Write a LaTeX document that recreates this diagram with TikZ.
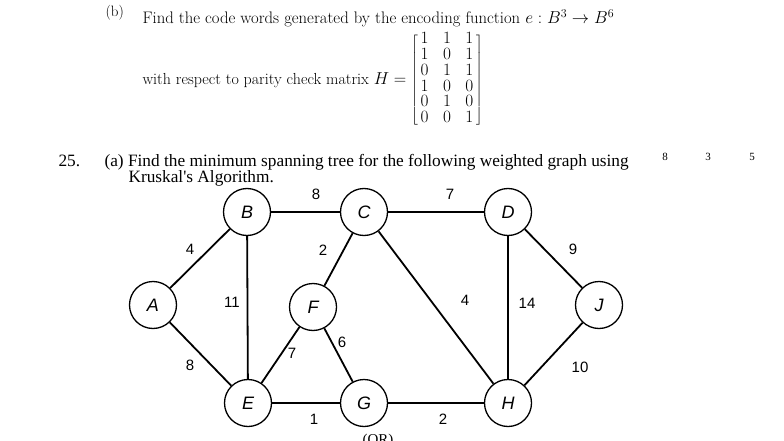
\documentclass[tikz,border=0pt]{standalone}
\usepackage{fontspec}
\newfontfamily\tms{Liberation Serif}
\newfontfamily\hel{Liberation Sans}
\begin{document}
\begin{tikzpicture}[x=1pt,y=-1pt,
  vtx/.style={circle,draw,line width=1.3pt,minimum size=47pt,inner sep=0pt,font=\hel\itshape\fontsize{18}{18}\selectfont},
  wt/.style={font=\hel\fontsize{15}{15}\selectfont},
  edge/.style={line width=1.8pt}]
\useasboundingbox (0,0) rectangle (784,441);
\node[anchor=base west,font=\fontsize{15}{15}\selectfont] (bl) at (102,17) {(b)};
\node[anchor=base west,font=\fontsize{16.7}{16.7}\selectfont] (t1) at (139,24) {Find the code words generated by the encoding function $e:B^3\to B^6$};
\node[anchor=west,font=\fontsize{16}{16}\selectfont] (t2) at (139,80) {with respect to parity check matrix $H=\renewcommand{\arraystretch}{0.96}\left[\begin{array}{@{\,}c@{\;\;\;}c@{\;\;\;}c@{\,}}1&1&1\\1&0&1\\0&1&1\\1&0&0\\0&1&0\\0&0&1\end{array}\right]$};
\node[anchor=base west,font=\tms\fontsize{17.3}{17.3}\selectfont] (q25) at (55,166) {25.};
\node[anchor=base west,font=\tms\fontsize{17.3}{17.3}\selectfont] (qa) at (101,166) {(a) Find the minimum spanning tree for the following weighted graph using};
\node[anchor=base west,font=\tms\fontsize{17.3}{17.3}\selectfont] (qk) at (125,182) {Kruskal's Algorithm.};
\foreach \v/\x in {8/665,3/708,5/752}{\node[font=\tms\fontsize{11}{11}\selectfont] (m\v) at (\x,157) {\v};}
\node[font=\tms\fontsize{15}{15}\selectfont] (or) at (378,441) {(OR)};
\node[vtx] (B) at (247,212) {B};
\node[vtx] (C) at (364,212) {C};
\node[vtx] (D) at (508,212) {D};
\node[vtx] (A) at (153,305) {A};
\node[vtx] (F) at (313,307) {F};
\node[vtx] (J) at (599,305) {J};
\node[vtx] (E) at (248,403) {E};
\node[vtx] (G) at (364,403) {G};
\node[vtx] (H) at (508,403) {H};
\draw[edge] (B)--(C) (C)--(D) (A)--(B) (B)--(E) (C)--(F) (C)--(H) (D)--(H) (D)--(J)
 (A)--(E) (F)--(E) (F)--(G) (E)--(G) (G)--(H) (J)--(H);
\node[wt] (w1) at (316,194) {8};
\node[wt] (w2) at (450,194) {7};
\node[wt] (w3) at (190,249) {4};
\node[wt] (w4) at (323,250) {2};
\node[wt] (w5) at (573,249) {9};
\node[wt] (w6) at (232,302) {11};
\node[wt] (w7) at (465,300) {4};
\node[wt] (w8) at (527,303) {14};
\node[wt] (w9) at (342,342) {6};
\node[wt] (w10) at (190,365) {8};
\node[wt] (w11) at (292,353) {7};
\node[wt] (w12) at (580,367) {10};
\node[wt] (w13) at (314,419) {1};
\node[wt] (w14) at (443,419) {2};
\end{tikzpicture}
\end{document}
